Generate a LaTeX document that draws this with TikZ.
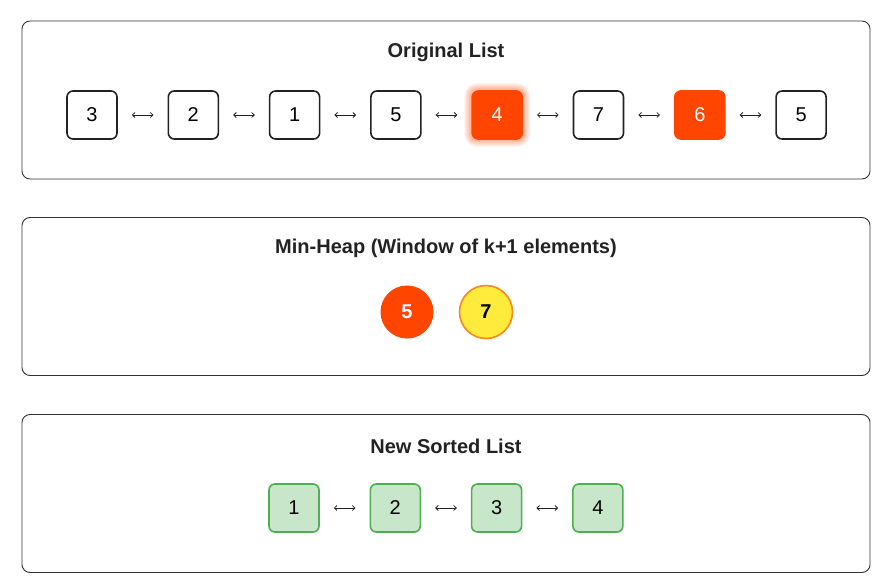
\documentclass[tikz,border=0pt]{standalone}
\usepackage{fontspec}
\setmainfont{Liberation Sans}
\usetikzlibrary{arrows.meta,positioning,backgrounds}

\definecolor{ink}{HTML}{222222}
\definecolor{frame}{HTML}{333333}
\definecolor{hotred}{HTML}{FF4500}
\definecolor{sun}{HTML}{FFEB3B}
\definecolor{sunedge}{HTML}{F5891F}
\definecolor{mint}{HTML}{C8E6C9}
\definecolor{leaf}{HTML}{4CAF50}

\begin{document}
\begin{tikzpicture}[
	x=1pt, y=-1pt,
	node distance=49.7pt,
	>={Straight Barb[length=2.6pt, width=5pt]},
	panel/.style={draw=frame, line width=0.9pt, rounded corners=8pt, minimum width=848pt, minimum height=158pt},
	title/.style={font=\bfseries\fontsize{20}{23}\selectfont, text=ink},
	item/.style={draw=ink, line width=1.6pt, rounded corners=6pt, minimum width=50pt, minimum height=48pt, inner sep=0pt, fill=white, font=\fontsize{20}{22}\selectfont, text=black},
	hot/.style={item, draw=hotred, fill=hotred, text=white},
	done/.style={item, draw=leaf, fill=mint},
	heapnode/.style={circle, minimum size=53pt, inner sep=0pt, font=\bfseries\fontsize{20}{22}\selectfont},
	link/.style={<->, line width=0.8pt, draw=ink, shorten <=14pt, shorten >=14pt}
]
\useasboundingbox (0,0) rectangle (893,585);

% three panels
\node[panel] (top) at (446,100) {};
\node[panel] (mid) at (446,296.5) {};
\node[panel] (bot) at (446,493.5) {};

\node[title] (ttop) at (446,52) {Original List};
\node[title] (tmid) at (446,248) {Min-Heap (Window of k+1 elements)};
\node[title] (tbot) at (446,446) {New Sorted List};

% original list
\node[item] (o1) at (92,115) {3};
\node[item, right=of o1] (o2) {2};
\node[item, right=of o2] (o3) {1};
\node[item, right=of o3] (o4) {5};
\node[hot, right=of o4] (o5) {4};
\node[item, right=of o5] (o6) {7};
\node[hot, right=of o6] (o7) {6};
\node[item, right=of o7] (o8) {5};

\begin{scope}[on background layer]
\foreach \g in {2,3,...,14}
	\node[fill=hotred, opacity=0.035, rounded corners=6pt+\g pt/2, minimum width=52pt+\g pt, minimum height=50pt+\g pt] at (o5) {};
\end{scope}

\foreach \a/\b in {o1/o2,o2/o3,o3/o4,o4/o5,o5/o6,o6/o7,o7/o8}
	\draw[link] (\a) -- (\b);

% heap
\node[heapnode, fill=hotred, text=white] (h1) at (407,312) {5};
\node[heapnode, fill=sun, draw=sunedge, line width=1.6pt, text=black, right=25pt of h1] (h2) {7};

% sorted list
\node[done] (s1) at (294,508) {1};
\node[done, right=of s1] (s2) {2};
\node[done, right=of s2] (s3) {3};
\node[done, right=of s3] (s4) {4};

\foreach \a/\b in {s1/s2,s2/s3,s3/s4}
	\draw[link] (\a) -- (\b);
\end{tikzpicture}
\end{document}
